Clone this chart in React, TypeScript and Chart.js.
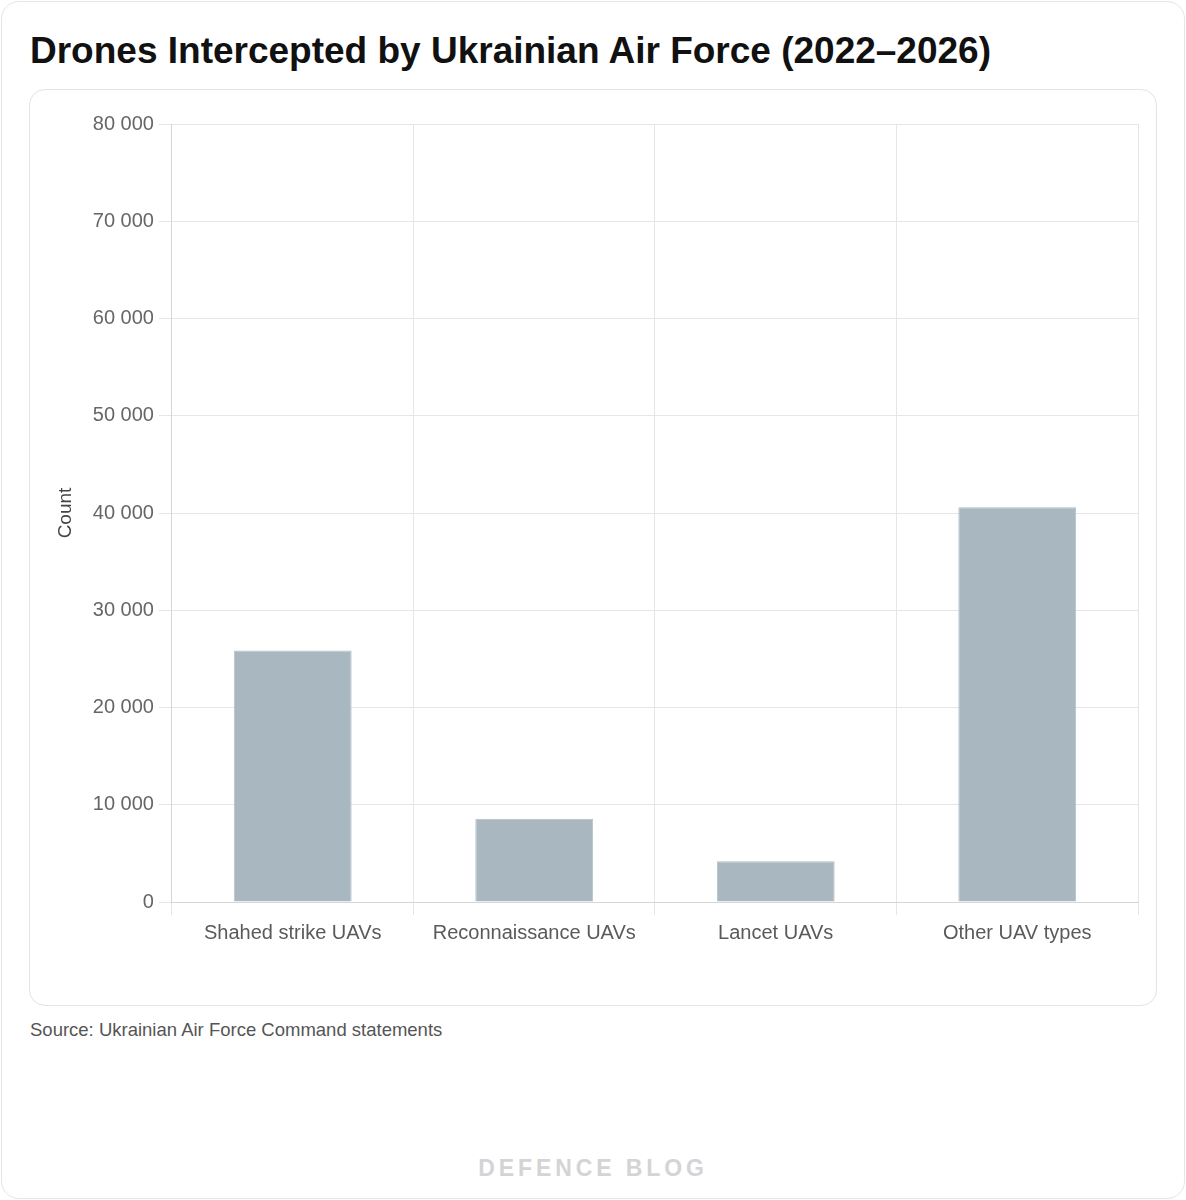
import React, { useEffect, useRef } from "react";
import { Chart, registerables } from "chart.js";

Chart.register(...registerables);

const categories = ["Shahed strike UAVs", "Reconnaissance UAVs", "Lancet UAVs", "Other UAV types"];
const intercepted = [25850, 8550, 4200, 40600];
const yTicks = [0, 10000, 20000, 30000, 40000, 50000, 60000, 70000, 80000];

const TITLE = "Drones Intercepted by Ukrainian Air Force (2022–2026)";
const SOURCE = "Source: Ukrainian Air Force Command statements";
const BRAND = "DEFENCE BLOG";
const FONT = "'Liberation Sans', Arial, Helvetica, sans-serif";

function fmt(v: number): string {
  return String(v).replace(/\B(?=(\d{3})+(?!\d))/g, " ");
}

export default function App() {
  const ref = useRef<HTMLCanvasElement | null>(null);

  useEffect(() => {
    document.body.style.margin = "0";
    const canvas = ref.current;
    if (!canvas) return;
    const chart = new Chart(canvas, {
      type: "bar",
      data: {
        labels: categories,
        datasets: [
          {
            label: "Count",
            data: intercepted,
            backgroundColor: "#a9b8c0",
            borderColor: "#b3c1c8",
            borderWidth: 1,
            barPercentage: 0.61,
            categoryPercentage: 0.8,
          },
        ],
      },
      options: {
        responsive: false,
        animation: false,
        maintainAspectRatio: false,
        layout: { padding: { top: 19, right: 7, bottom: 9, left: 0 } },
        plugins: {
          legend: { display: false },
          tooltip: { enabled: false },
          title: { display: false },
        },
        scales: {
          x: {
            grid: { color: "#e6e6e8", tickLength: 13, offset: true, lineWidth: 1 },
            border: { color: "#d6d6d8" },
            ticks: {
              color: "#5a5a5a",
              font: { family: FONT, size: 20 },
              padding: 6,
            },
          },
          y: {
            min: 0,
            max: 80000,
            afterBuildTicks: (axis: any) => {
              axis.ticks = yTicks.map((v) => ({ value: v }));
            },
            grid: { color: "#e6e6e8", tickLength: 13, lineWidth: 1 },
            border: { color: "#d6d6d8" },
            ticks: {
              color: "#666666",
              font: { family: FONT, size: 20 },
              padding: 5,
              callback: (v: any) => fmt(Number(v)),
            },
            title: {
              display: true,
              text: "Count",
              color: "#444444",
              font: { family: FONT, size: 19 },
              padding: { top: 9, bottom: 11 },
            },
          },
        },
      },
    });
    return () => chart.destroy();
  }, []);

  return (
    <div style={{ position: "relative", width: 1186, height: 1200, background: "#fff", fontFamily: FONT }}>
      <div
        style={{
          position: "absolute",
          left: 1,
          top: 1,
          width: 1184,
          height: 1198,
          boxSizing: "border-box",
          border: "1px solid #e5e5ea",
          borderRadius: 18,
        }}
      />
      <div
        style={{
          position: "absolute",
          left: 30,
          top: 32,
          fontSize: 37,
          lineHeight: "37px",
          fontWeight: 700,
          color: "#111",
          whiteSpace: "nowrap",
        }}
      >
        {TITLE}
      </div>
      <div
        style={{
          position: "absolute",
          left: 29,
          top: 89,
          width: 1128,
          height: 917,
          boxSizing: "border-box",
          border: "1px solid #e3e3e8",
          borderRadius: 16,
        }}
      />
      <canvas
        ref={ref}
        width={1100}
        height={855}
        style={{ position: "absolute", left: 45, top: 105, width: 1100, height: 855 }}
      />
      <div
        style={{
          position: "absolute",
          left: 30,
          top: 1021,
          fontSize: 18.5,
          lineHeight: "18.5px",
          color: "#555",
          whiteSpace: "nowrap",
        }}
      >
        {SOURCE}
      </div>
      <div
        style={{
          position: "absolute",
          left: 0,
          top: 1157,
          width: 1186,
          textAlign: "center",
          fontSize: 23,
          lineHeight: "23px",
          fontWeight: 700,
          letterSpacing: 3.9,
          color: "#d4d4d6",
          whiteSpace: "nowrap",
          boxSizing: "border-box",
          paddingLeft: 0,
        }}
      >
        {BRAND}
      </div>
    </div>
  );
}
